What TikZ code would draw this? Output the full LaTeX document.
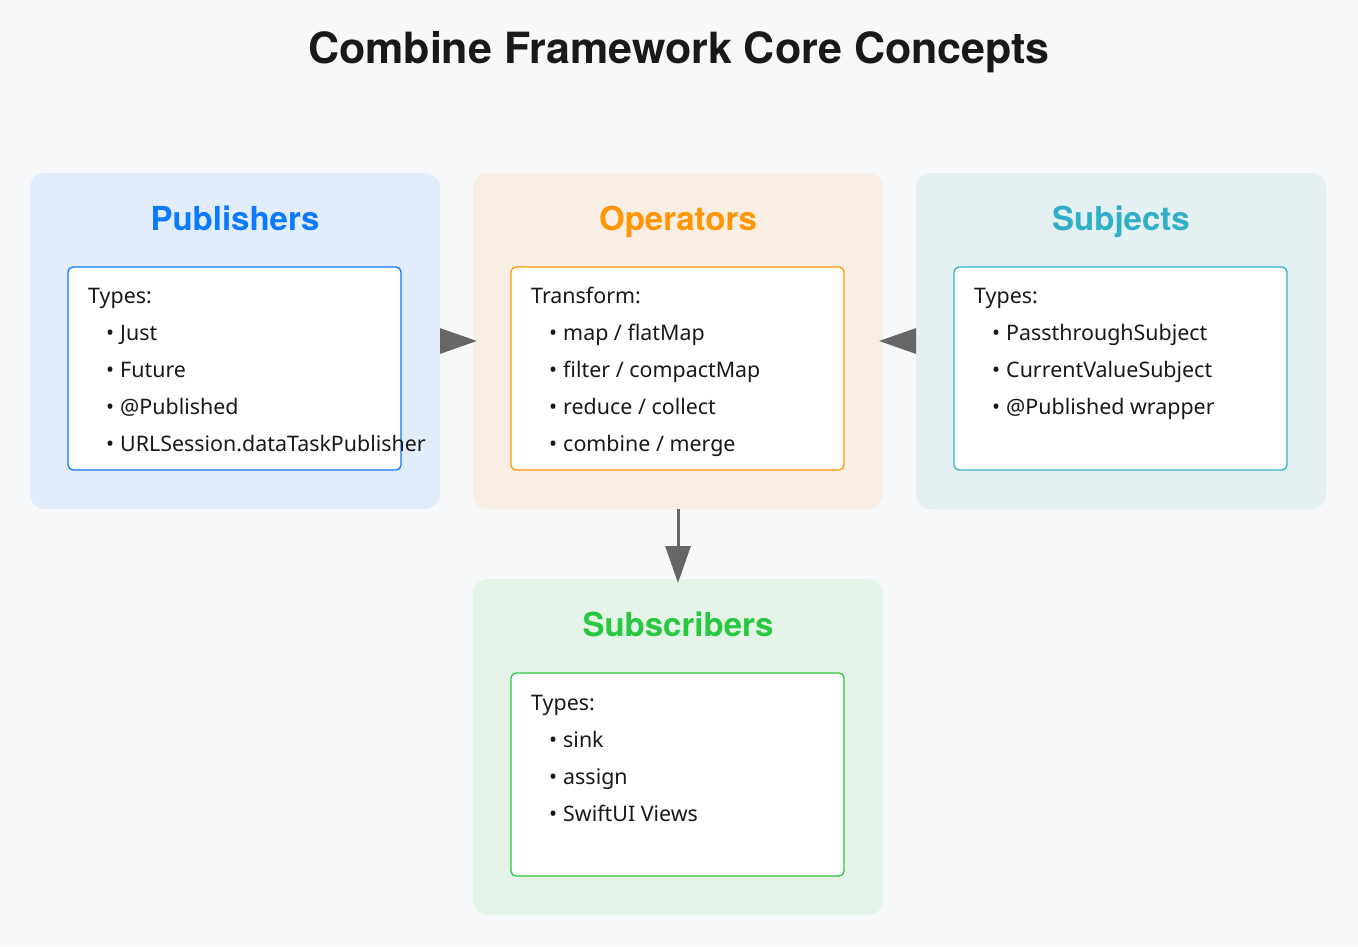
\documentclass[tikz,border=0pt]{standalone}
\usepackage{fontspec}
\setmainfont{TeX Gyre Heros}
\newfontfamily\bodyf{Noto Sans}
\usetikzlibrary{arrows.meta}
\definecolor{bgc}{HTML}{F7F8FA}
\definecolor{pubc}{HTML}{0A7AFF}\definecolor{pubbg}{HTML}{E2ECFA}
\definecolor{opc}{HTML}{FF9500}\definecolor{opbg}{HTML}{F9EEE4}
\definecolor{subc}{HTML}{30B0C7}\definecolor{subbg}{HTML}{E4F0F2}
\definecolor{scc}{HTML}{28C840}\definecolor{scbg}{HTML}{E5F4E9}
\definecolor{arr}{HTML}{666666}
\newcommand{\bul}{•\hspace{6pt}}
\tikzset{
 x=1pt,y=-1pt,
 outer/.style={rounded corners=15pt,draw=none},
 inner/.style={rounded corners=5pt,fill=white,line width=1.3pt},
 ttl/.style={anchor=base,inner sep=0pt,font=\fontsize{33}{38}\selectfont\bfseries},
 txt/.style={anchor=base west,inner sep=0pt,font=\bodyf\fontsize{21.4}{24}\selectfont,text=black!90},
 con/.style={arr,line width=3pt,-{Triangle[length=37pt,width=25pt]}}
}
\begin{document}
\begin{tikzpicture}
\useasboundingbox[fill=bgc] (0,0) rectangle (1358,946);
\node[anchor=base,inner sep=0pt,font=\fontsize{43}{48}\selectfont\bfseries,text=black!90] (title) at (679,63) {Combine Framework Core Concepts};
\path[outer,fill=pubbg] (30,173) rectangle (440,509);
\path[outer,fill=opbg] (473,173) rectangle (883,509);
\path[outer,fill=subbg] (916,173) rectangle (1326,509);
\path[outer,fill=scbg] (473,579) rectangle (883,915);
\coordinate (pubR) at (440,341);
\coordinate (opL) at (477,341);
\coordinate (opR) at (879,341);
\coordinate (subL) at (916,341);
\coordinate (opB) at (678,509);
\coordinate (scT) at (678,583);
\node[ttl,text=pubc] (tp) at (235,230) {Publishers};
\node[ttl,text=opc] (to) at (678,230) {Operators};
\node[ttl,text=subc] (ts) at (1121,230) {Subjects};
\node[ttl,text=scc] (tsc) at (678,636) {Subscribers};
\draw[inner,draw=pubc] (68,267) rectangle (401,470);
\draw[inner,draw=opc] (511,267) rectangle (844,470);
\draw[inner,draw=subc] (954,267) rectangle (1287,470);
\draw[inner,draw=scc] (511,673) rectangle (844,876);
\node[txt] (p0) at (88,303) {Types:};
\node[txt] (p1) at (106,340) {\bul Just};
\node[txt] (p2) at (106,377) {\bul Future};
\node[txt] (p3) at (106,414) {\bul @Published};
\node[txt] (p4) at (106,451) {\bul URLSession.dataTaskPublisher};
\node[txt] (o0) at (531,303) {Transform:};
\node[txt] (o1) at (549,340) {\bul map / flatMap};
\node[txt] (o2) at (549,377) {\bul filter / compactMap};
\node[txt] (o3) at (549,414) {\bul reduce / collect};
\node[txt] (o4) at (549,451) {\bul combine / merge};
\node[txt] (s0) at (974,303) {Types:};
\node[txt] (s1) at (992,340) {\bul PassthroughSubject};
\node[txt] (s2) at (992,377) {\bul CurrentValueSubject};
\node[txt] (s3) at (992,414) {\bul @Published wrapper};
\node[txt] (c0) at (531,710) {Types:};
\node[txt] (c1) at (549,747) {\bul sink};
\node[txt] (c2) at (549,784) {\bul assign};
\node[txt] (c3) at (549,821) {\bul SwiftUI Views};
\draw[con] (pubR) -- (opL);
\draw[con] (subL) -- (opR);
\draw[con] (opB) -- (scT);
\end{tikzpicture}
\end{document}
